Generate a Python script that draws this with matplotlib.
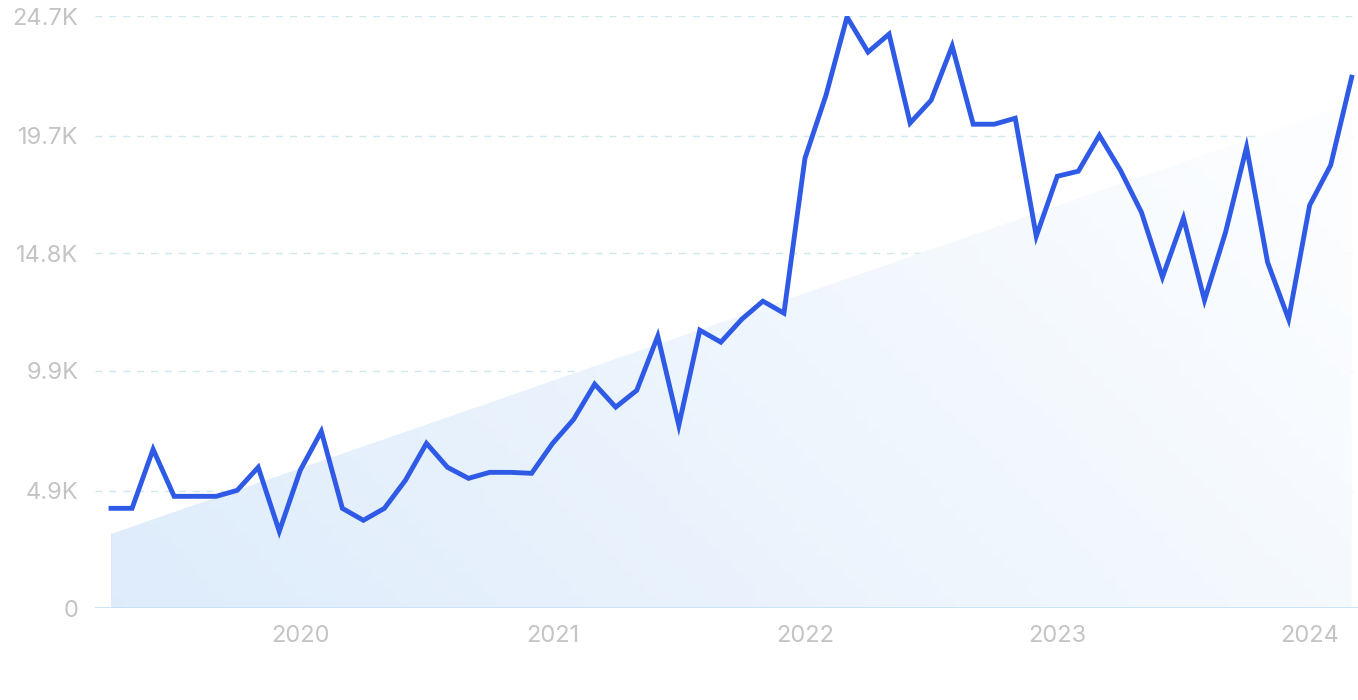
import matplotlib
matplotlib.use("Agg")
import matplotlib.pyplot as plt
import numpy as np
from matplotlib.patches import Polygon

plt.rcParams["font.family"] = ["Inter", "DejaVu Sans"]

# monthly values, Apr 2019 .. Mar 2024 (thousands)
values = [4.17, 4.17, 6.63, 4.67, 4.67, 4.67, 4.92, 5.88, 3.21, 5.76,
          7.38, 4.17, 3.67, 4.17, 5.34, 6.88, 5.88, 5.42, 5.67, 5.67,
          5.63, 6.88, 7.88, 9.35, 8.39, 9.09, 11.35, 7.63, 11.6, 11.1,
          12.06, 12.81, 12.31, 18.77, 21.4, 24.66, 23.2, 23.95, 20.24, 21.19,
          23.45, 20.19, 20.19, 20.44, 15.52, 18.02, 18.23, 19.73, 18.27, 16.52,
          13.81, 16.27, 12.85, 15.68, 19.23, 14.43, 12.06, 16.81, 18.48, 22.15]
trend_ends = [3.1, 21.05]
y_ticks = [0, 4.9, 9.9, 14.8, 19.7, 24.7]
y_labels = ["0", "4.9K", "9.9K", "14.8K", "19.7K", "24.7K"]
year_pos = [9, 21, 33, 45, 57]
year_labels = ["2020", "2021", "2022", "2023", "2024"]

x = np.arange(len(values))
fig = plt.figure(figsize=(13.58, 7), dpi=100)
ax = fig.add_axes([0.07, 0.131, 0.93, 0.846])
ax.set_xlim(-0.76, 59.3)
ax.set_ylim(0, 24.7)

# gradient trend area
grad = np.zeros((100, 100, 4))
cx = np.linspace(0, 1, 100)[None, :]
cy = np.linspace(0, 1, 100)[:, None]
t = np.clip(0.75 * cx + 0.35 * cy, 0, 1)
c0 = np.array([0.87, 0.925, 0.985])
c1 = np.array([0.99, 0.995, 1.0])
grad[..., :3] = c0 * (1 - t[..., None]) + c1 * t[..., None]
grad[..., 3] = 1
im = ax.imshow(grad, extent=[0, 59, 0, 24.7], origin="lower", aspect="auto", zorder=1)
poly = Polygon([[0, 0], [0, trend_ends[0]], [59, trend_ends[1]], [59, 0]],
               closed=True, facecolor="none", edgecolor="none")
ax.add_patch(poly)
im.set_clip_path(poly)

for yt in y_ticks[1:]:
    ax.axhline(yt, color="#cfe7ee", lw=1, ls=(0, (5, 5)), zorder=0)
ax.axhline(0, color="#c5e0f5", lw=1.2, zorder=2)

ax.plot(x, values, color="#2f5ae5", lw=3.5, solid_joinstyle="miter", zorder=3)

ax.set_yticks(y_ticks)
ax.set_yticklabels(y_labels)
ax.set_xticks(year_pos)
ax.set_xticklabels(year_labels)
ax.tick_params(length=0, labelsize=17, labelcolor="#c4c4c4", pad=12)
for s in ax.spines.values():
    s.set_visible(False)

fig.savefig("out.png", dpi=100)
